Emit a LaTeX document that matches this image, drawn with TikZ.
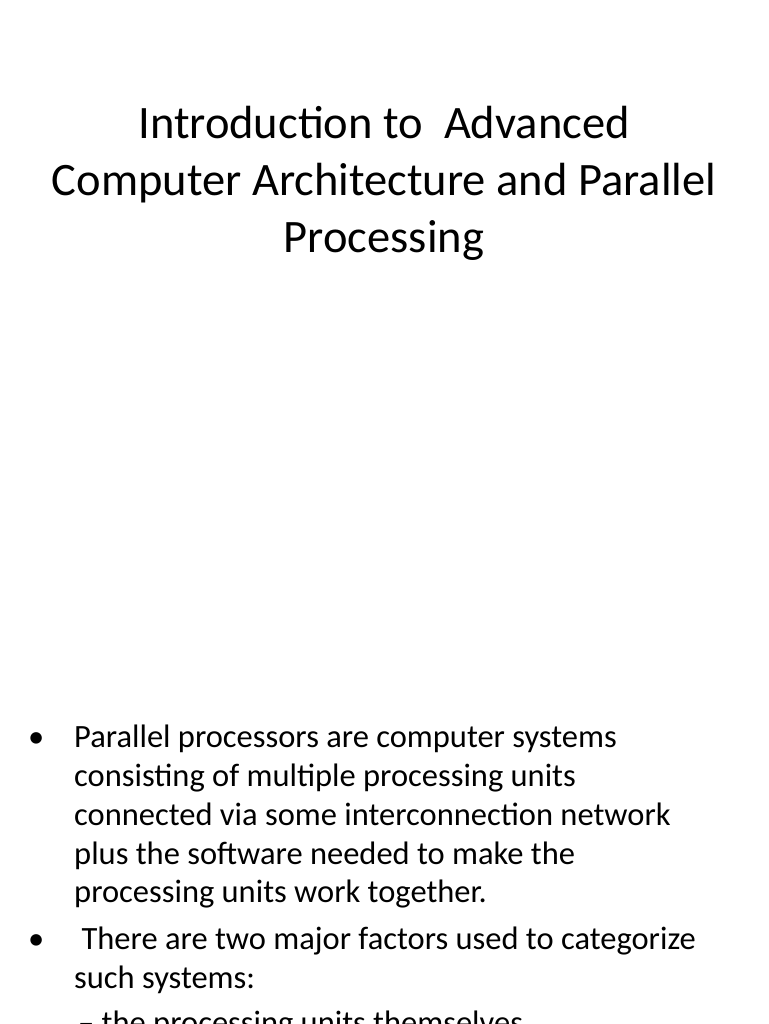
\documentclass[tikz,border=0pt]{standalone}
\usepackage{fontspec}
\setmainfont{Carlito}
\begin{document}
\begin{tikzpicture}[x=1pt,y=1pt,
  title/.style={anchor=base,font=\fontsize{46.5}{46.5}\selectfont,inner sep=0},
  body/.style={anchor=base west,font=\fontsize{32.5}{32.5}\selectfont,inner sep=0},
  dot/.style={anchor=base west,font=\fontsize{32.5}{32.5}\selectfont,inner sep=0}]
\useasboundingbox (0,0) rectangle (768,-1024);
\clip (0,0) rectangle (768,-1024);
\node[title] (t1) at (384,-139) {Introduction to\ \ Advanced};
\node[title] (t2) at (384,-196) {Computer Architecture and Parallel};
\node[title] (t3) at (384,-252) {Processing};
\node[dot] (b1) at (28,-747) {•};
\node[body] (l1) at (74,-747) {Parallel processors are computer systems};
\node[body] (l2) at (74,-786) {consisting of multiple processing units};
\node[body] (l3) at (74,-825) {connected via some interconnection network};
\node[body] (l4) at (74,-864) {plus the software needed to make the};
\node[body] (l5) at (74,-902) {processing units work together.};
\node[dot] (b2) at (28,-949) {•};
\node[body] (l6) at (74,-949) {\ There are two major factors used to categorize};
\node[body] (l7) at (74,-988) {such systems:};
\node[body] (l8) at (78,-1033) {– the processing units themselves};
\end{tikzpicture}
\end{document}
